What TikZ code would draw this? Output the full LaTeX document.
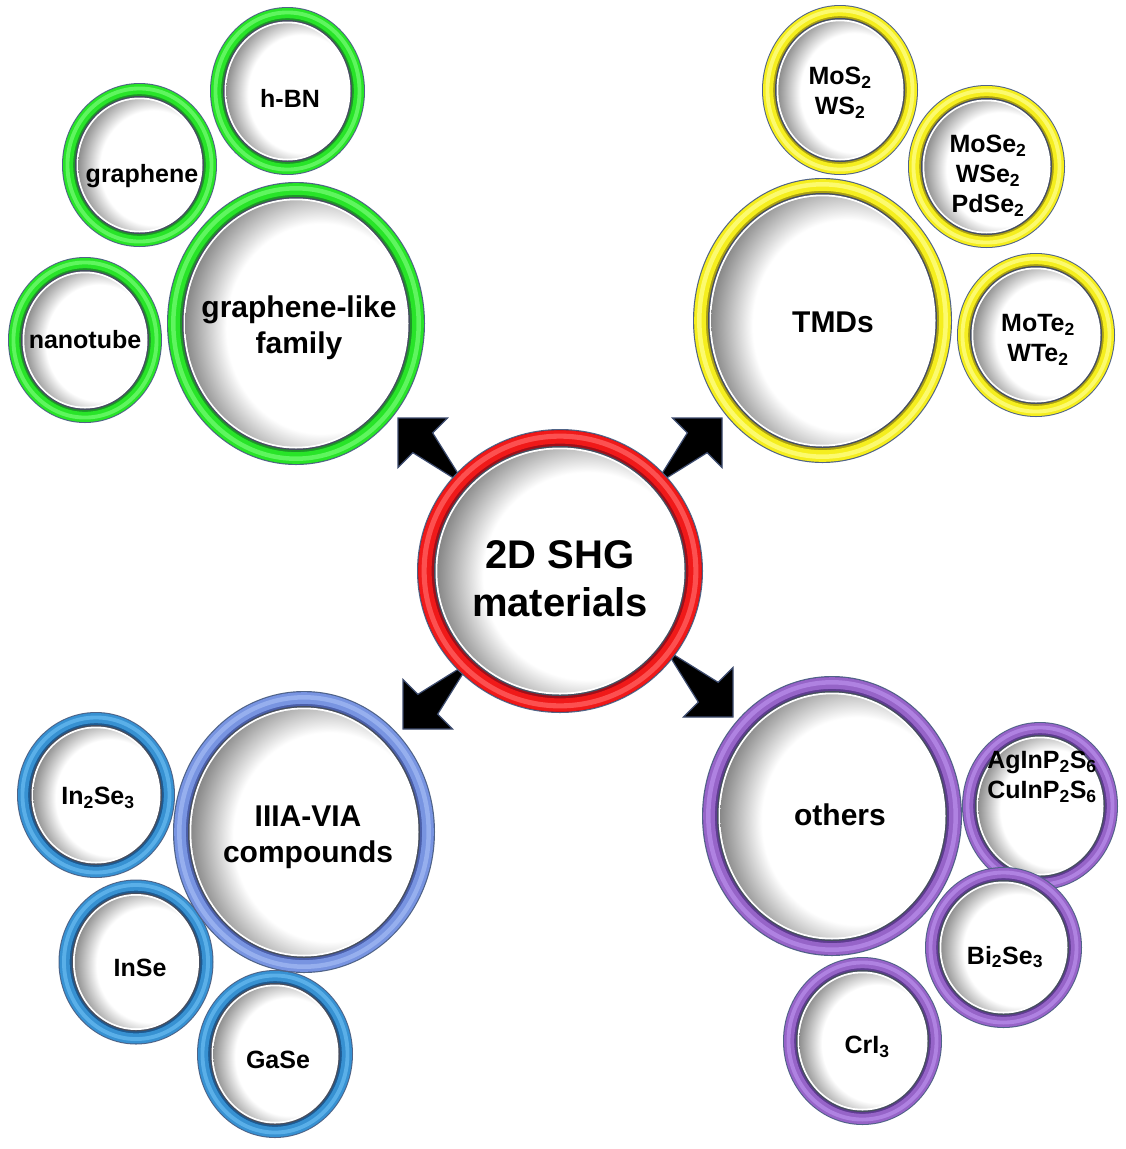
\documentclass[tikz,border=0pt]{standalone}
\usepackage{fontspec}
\setmainfont{Liberation Sans}
\usetikzlibrary{calc}
\definecolor{grmain}{RGB}{40,228,40}
\definecolor{grdark}{RGB}{30,150,40}
\definecolor{grlight}{RGB}{95,245,95}
\definecolor{yemain}{RGB}{245,238,30}
\definecolor{yedark}{RGB}{170,160,20}
\definecolor{yelight}{RGB}{252,250,110}
\definecolor{rdmain}{RGB}{240,25,25}
\definecolor{rddark}{RGB}{160,15,25}
\definecolor{rdlight}{RGB}{252,80,80}
\definecolor{pwmain}{RGB}{120,148,225}
\definecolor{pwdark}{RGB}{75,95,170}
\definecolor{pwlight}{RGB}{150,175,238}
\definecolor{blmain}{RGB}{55,145,210}
\definecolor{bldark}{RGB}{30,90,145}
\definecolor{bllight}{RGB}{90,175,232}
\definecolor{pumain}{RGB}{150,100,200}
\definecolor{pudark}{RGB}{95,60,145}
\definecolor{pulight}{RGB}{175,130,225}
\definecolor{ringedge}{RGB}{80,100,135}
\definecolor{innerline}{RGB}{70,78,95}
\definecolor{arrowedge}{RGB}{60,75,110}
\pgfdeclareradialshading{innershadow}{\pgfpoint{0bp}{0bp}}{color(0bp)=(white); color(17bp)=(white); color(25bp)=(black!50); color(50bp)=(black!50)}
% #1 x, #2 y, #3 rx, #4 ry, #5 ring width, #6 colour prefix
\newcommand{\bubble}[6]{%
  \begin{scope}[shift={(#1,#2)}]
    \fill[ringedge] (0,0) ellipse [x radius=#3, y radius=#4];
    \fill[#6dark] (0,0) ellipse [x radius=#3-1.2, y radius=#4-1.2];
    \draw[#6main, line width={0.78*#5}] (0,0) ellipse [x radius=#3-0.47*#5, y radius=#4-0.47*#5];
    \draw[#6light, line width={0.3*#5}] (0,0) ellipse [x radius=#3-0.42*#5, y radius=#4-0.42*#5];
    \fill[innerline] (0,0) ellipse [x radius=#3-#5, y radius=#4-#5];
    \fill[white] (0,0) ellipse [x radius=#3-#5-1.5, y radius=#4-#5-1.5];
    \begin{scope}
      \clip (0,0) ellipse [x radius=#3-#5-3.3, y radius=#4-#5-3.3];
      \shade[shading=innershadow] ({0.22*(#3-#5)},{0.04*(#4-#5)}) ellipse [x radius={1.22*(#3-#5)}, y radius={1.22*(#4-#5)}];
    \end{scope}
  \end{scope}}
% #1 tail coordinate, #2 tip coordinate, #3 prefix
\newcommand{\blockarrow}[3]{%
  \coordinate (#3b) at ($(#2)!35pt!(#1)$);
  \coordinate (#3hA) at ($(#3b)!35pt!90:(#2)$);
  \coordinate (#3hB) at ($(#3b)!35pt!-90:(#2)$);
  \coordinate (#3sA) at ($(#3b)!14pt!90:(#2)$);
  \coordinate (#3sB) at ($(#3b)!14pt!-90:(#2)$);
  \coordinate (#3eA) at ($(#1)!14pt!-90:(#2)$);
  \coordinate (#3eB) at ($(#1)!14pt!90:(#2)$);
  \draw[blockarr] (#3eA) -- (#3sA) -- (#3hA) -- (#2) -- (#3hB) -- (#3sB) -- (#3eB) -- cycle;}
\tikzset{
  blockarr/.style={fill=black, draw=arrowedge, line width=1.2pt, line join=miter},
  smalllbl/.style={align=center, inner sep=0pt, text=black, font=\fontsize{25}{30}\selectfont\bfseries},
  biglbl/.style={align=center, inner sep=0pt, text=black, font=\fontsize{30}{36}\selectfont\bfseries},
  centerlbl/.style={align=center, inner sep=0pt, text=black, font=\fontsize{40}{48}\selectfont\bfseries}
}
\begin{document}
\begin{tikzpicture}[x=1pt,y=-1pt]
\useasboundingbox (0,0) rectangle (1125,1149);
\fill[white] (0,0) rectangle (1125,1149);

% centre label node and arrows
\node[centerlbl] (shg) at (560,579) {2D SHG\\materials};
\coordinate (tUL) at (398,418);
\coordinate (tUR) at (722,418);
\coordinate (tLL) at (403,729);
\coordinate (tLR) at (733,717);
\coordinate (sUL) at ($(tUL)+(110,110)$);
\coordinate (sUR) at ($(tUR)+(-110,110)$);
\coordinate (sLL) at ($(tLL)+(110,-110)$);
\coordinate (sLR) at ($(tLR)+(-110,-110)$);
\blockarrow{sUL}{tUL}{aUL}
\blockarrow{sUR}{tUR}{aUR}
\blockarrow{sLL}{tLL}{aLL}
\blockarrow{sLR}{tLR}{aLR}

% graphene-like family
\bubble{287.5}{91}{77.5}{84}{13}{gr}
\bubble{139.5}{165}{77.5}{82}{13}{gr}
\bubble{85}{340}{77}{83}{13}{gr}
\bubble{296}{323.5}{129}{141.5}{15}{gr}
% TMDs
\bubble{840}{90}{78}{85}{13}{ye}
\bubble{986.5}{166.5}{78.5}{81.5}{13}{ye}
\bubble{1036}{335}{79}{82}{13}{ye}
\bubble{822.5}{320.5}{129.5}{142.5}{15}{ye}
% IIIA-VIA
\bubble{96}{795}{79}{83}{13}{bl}
\bubble{136}{962}{77.5}{82.5}{13}{bl}
\bubble{275}{1054}{78}{84}{13}{bl}
\bubble{304}{832}{131}{141}{15}{pw}
% others
\bubble{1040}{806}{78}{84}{13}{pu}
\bubble{1003.5}{947.5}{78.5}{80.5}{13}{pu}
\bubble{862.5}{1041}{79.5}{84}{13}{pu}
\bubble{832}{816}{130}{140}{15}{pu}
% centre
\bubble{560}{571}{143}{142}{17}{rd}

% labels
\node[centerlbl] at (shg) {2D SHG\\materials};
\node[biglbl] (gfam) at (299,328) {graphene-like\\family};
\node[smalllbl] (hbn) at (290,98) {h-BN};
\node[smalllbl] (graphene) at (142,176) {graphene};
\node[smalllbl] (nanotube) at (85,340) {nanotube};
\node[biglbl] (tmds) at (833,322) {TMDs};
\node[smalllbl] (mos2) at (840,93) {MoS\textsubscript{2}\\WS\textsubscript{2}};
\node[smalllbl] (mose2) at (988,176) {MoSe\textsubscript{2}\\WSe\textsubscript{2}\\PdSe\textsubscript{2}};
\node[smalllbl] (mote2) at (1038,340) {MoTe\textsubscript{2}\\WTe\textsubscript{2}};
\node[smalllbl] (in2se3) at (98,798) {In\textsubscript{2}Se\textsubscript{3}};
\node[biglbl] (iiia) at (308,837) {IIIA-VIA\\compounds};
\node[smalllbl] (inse) at (140,968) {InSe};
\node[smalllbl] (gase) at (278,1060) {GaSe};
\node[biglbl] (others) at (840,815) {others};
\node[smalllbl] (agin) at (1042,777) {AgInP\textsubscript{2}S\textsubscript{6}\\CuInP\textsubscript{2}S\textsubscript{6}};
\node[smalllbl] (bi2se3) at (1005,957) {Bi\textsubscript{2}Se\textsubscript{3}};
\node[smalllbl] (cri3) at (867,1047) {CrI\textsubscript{3}};
\end{tikzpicture}
\end{document}
